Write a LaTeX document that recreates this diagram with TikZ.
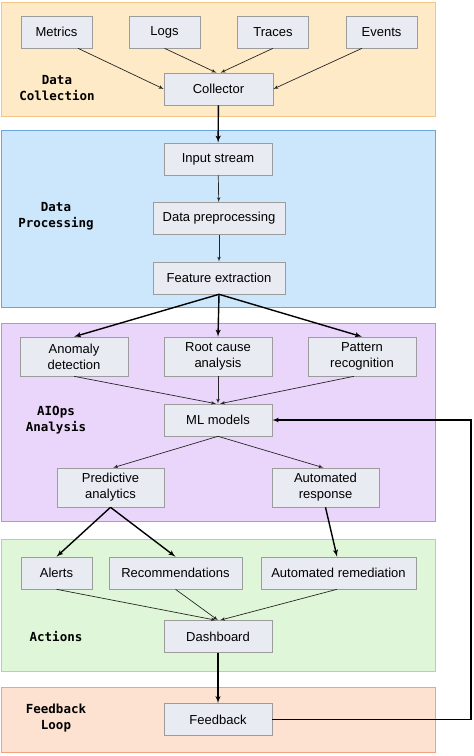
\documentclass[tikz,border=0pt]{standalone}
\usepackage{fontspec}
\setmainfont{Liberation Sans}
\newfontfamily\monofont{DejaVu Sans Mono}
\usetikzlibrary{shapes.geometric, arrows}
\definecolor{nodefill}{HTML}{E9EBF3}
\definecolor{nodeline}{HTML}{9C9C9C}
\definecolor{collfill}{HTML}{FEEAC6}
\definecolor{collline}{HTML}{F5C487}
\definecolor{procfill}{HTML}{CCE6FB}
\definecolor{procline}{HTML}{6AA5DE}
\definecolor{aifill}{HTML}{EAD6FA}
\definecolor{ailine}{HTML}{BA8FDC}
\definecolor{actfill}{HTML}{DFF7D8}
\definecolor{actline}{HTML}{A6DBA0}
\definecolor{fbfill}{HTML}{FDE2D1}
\definecolor{fbline}{HTML}{F2A27F}
\tikzstyle{block} = [ rectangle, draw=nodeline, fill=nodefill, line width=0.6pt, align=center, inner sep=2pt, minimum height=32pt, font=\fontsize{13}{16}\selectfont]
\tikzstyle{cluster} = [ line width=0.8pt]
\tikzstyle{clabel} = [ align=center, font=\monofont\bfseries\fontsize{12.5}{16}\selectfont]
\tikzstyle{line} = [ draw, color=black!85, line width=0.7pt, -latex']
\tikzstyle{thickline} = [ draw, black, line width=1.4pt, -latex']

\begin{document}
\begin{tikzpicture}[x=1pt, y=-1pt]
  \fill[white] (0,0) rectangle (474,756);
  \useasboundingbox (0,0) rectangle (474,756);
  % clusters
  \draw [cluster, draw=collline, fill=collfill] (1.5,2.5) rectangle (435,116);
  \draw [cluster, draw=procline, fill=procfill] (1.5,130) rectangle (435,307);
  \draw [cluster, draw=ailine, fill=aifill]     (1.5,323) rectangle (435,521);
  \draw [cluster, draw=actline, fill=actfill]   (1.5,539) rectangle (435,671);
  \draw [cluster, draw=fbline, fill=fbfill]     (1.5,687) rectangle (435,752);
  \node [clabel] (lcoll) at (57,88)  {Data\\Collection};
  \node [clabel] (lproc) at (56,216) {Data\\Processing};
  \node [clabel] (lai)   at (56,420) {AIOps\\Analysis};
  \node [clabel] (lact)  at (56,636) {Actions};
  \node [clabel] (lfb)   at (56,718) {Feedback\\Loop};
  % data collection
  \node [block, minimum width=71pt]  (metrics)   at (56.5,32)  {Metrics};
  \node [block, minimum width=71pt]  (logs)      at (164.5,32) {Logs};
  \node [block, minimum width=71pt]  (traces)    at (273,32)   {Traces};
  \node [block, minimum width=71pt]  (events)    at (381.5,32) {Events};
  \node [block, minimum width=109pt] (collector) at (218.5,89) {Collector};
  % data processing
  \node [block, minimum width=108pt] (input)   at (218,159)   {Input stream};
  \node [block, minimum width=132pt] (prep)    at (219,218.5) {Data preprocessing};
  \node [block, minimum width=132pt] (feature) at (219,278)   {Feature extraction};
  % analysis
  \node [block, minimum width=108pt, minimum height=39pt] (anomaly) at (74,356.5)  {Anomaly\\detection};
  \node [block, minimum width=108pt, minimum height=39pt] (root)    at (218,356.5) {Root cause\\analysis};
  \node [block, minimum width=108pt, minimum height=39pt] (pattern) at (362,356.5) {Pattern\\recognition};
  \node [block, minimum width=108pt] (ml) at (218,420) {ML models};
  \node [block, minimum width=107pt, minimum height=39pt] (predict)  at (110.5,487.5) {Predictive\\analytics};
  \node [block, minimum width=107pt, minimum height=39pt] (response) at (325.5,487.5) {Automated\\response};
  % actions
  \node [block, minimum width=71pt]  (alerts)    at (56.5,573)  {Alerts};
  \node [block, minimum width=133pt] (recomm)    at (175.5,573) {Recommendations};
  \node [block, minimum width=155pt] (remed)     at (338.5,573) {Automated remediation};
  \node [block, minimum width=108pt] (dashboard) at (218,636.5) {Dashboard};
  % feedback
  \node [block, minimum width=108pt] (feedback) at (218,719.5) {Feedback};
  \coordinate (rail) at (471,0);
  % connectors
  \path [line] ([xshift=21.5pt]metrics.south) -- (collector.west);
  \path [line] (logs.south) -- ([xshift=-2pt]collector.north);
  \path [line] (traces.south) -- ([xshift=2pt]collector.north);
  \path [line] ([xshift=-19.5pt]events.south) -- (collector.east);
  \path [thickline] (collector) -- (input);
  \path [line] (input) -- (prep);
  \path [line] (prep) -- (feature);
  \path [thickline] (feature.south) -- (anomaly.north);
  \path [thickline] (feature.south) -- (root.north);
  \path [thickline] (feature.south) -- (pattern.north);
  \path [line] (anomaly.south) -- ([xshift=-2pt]ml.north);
  \path [line] (root.south) -- (ml.north);
  \path [line] ([xshift=-8pt]pattern.south) -- ([xshift=2pt]ml.north);
  \path [line] (ml.south) -- ([xshift=2.5pt]predict.north);
  \path [line] (ml.south) -- ([xshift=-2pt]response.north);
  \path [thickline] (predict.south) -- (alerts.north);
  \path [thickline] (predict.south) -- (recomm.north);
  \path [thickline] (response.south) -- ([xshift=-1.5pt]remed.north);
  \path [line] (alerts.south) -- ([xshift=-2pt]dashboard.north);
  \path [line] (recomm.south) -- (dashboard.north);
  \path [line] ([xshift=-1.5pt]remed.south) -- ([xshift=2pt]dashboard.north);
  \path [thickline] (dashboard) -- (feedback);
  \draw [thickline, line width=1.2pt] (feedback.east) -- (feedback.east -| rail) |- (ml.east);
\end{tikzpicture}
\end{document}
